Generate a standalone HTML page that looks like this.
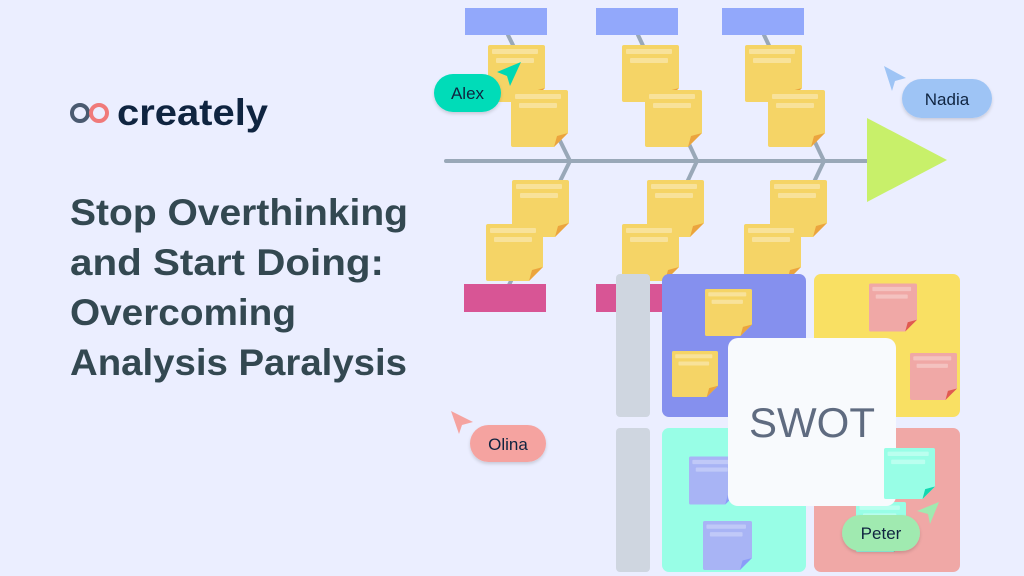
<!DOCTYPE html>
<html><head><meta charset="utf-8"><style>
html,body{margin:0;padding:0;background:#ebeeff;}
svg{display:block;}
text{font-family:"Liberation Sans",sans-serif;}
</style></head><body>
<svg width="1024" height="576" viewBox="0 0 1024 576" xmlns="http://www.w3.org/2000/svg">
<defs>
<filter id="sh" x="-20%" y="-20%" width="140%" height="160%"><feDropShadow dx="0" dy="2" stdDeviation="1.5" flood-color="#000" flood-opacity="0.15"/></filter>
<symbol id="ny" viewBox="0 0 57 57" width="57" height="57" overflow="visible">
<path d="M2 0H55a2 2 0 0 1 2 2V43L43 57H2a2 2 0 0 1-2-2V2a2 2 0 0 1 2-2z" fill="#f5d466"/>
<path d="M57 43L43 57L46 46Z" fill="#eba43e"/>
<rect x="4" y="4" width="46" height="5" rx="1" fill="#f8e29a"/>
<rect x="8" y="13" width="38" height="5" rx="1" fill="#f8e29a"/>
</symbol>
<symbol id="np" viewBox="0 0 57 57" width="57" height="57" overflow="visible">
<path d="M2 0H55a2 2 0 0 1 2 2V43L43 57H2a2 2 0 0 1-2-2V2a2 2 0 0 1 2-2z" fill="#f0a8a6"/>
<path d="M57 43L43 57L46 46Z" fill="#e05a50"/>
<rect x="4" y="4" width="46" height="5" rx="1" fill="#f4c2c0"/>
<rect x="8" y="13" width="38" height="5" rx="1" fill="#f4c2c0"/>
</symbol>
<symbol id="nv" viewBox="0 0 57 57" width="57" height="57" overflow="visible">
<path d="M2 0H55a2 2 0 0 1 2 2V43L43 57H2a2 2 0 0 1-2-2V2a2 2 0 0 1 2-2z" fill="#a8b4f5"/>
<path d="M57 43L43 57L46 46Z" fill="#8a9cf8"/>
<rect x="4" y="4" width="46" height="5" rx="1" fill="#c0c9f8"/>
<rect x="8" y="13" width="38" height="5" rx="1" fill="#c0c9f8"/>
</symbol>
<symbol id="nt" viewBox="0 0 57 57" width="57" height="57" overflow="visible">
<path d="M2 0H55a2 2 0 0 1 2 2V43L43 57H2a2 2 0 0 1-2-2V2a2 2 0 0 1 2-2z" fill="#98fee6"/>
<path d="M57 43L43 57L46 46Z" fill="#10d8b0"/>
<rect x="4" y="4" width="46" height="5" rx="1" fill="#baffef"/>
<rect x="8" y="13" width="38" height="5" rx="1" fill="#baffef"/>
</symbol>
</defs>

<!-- Left: logo -->
<circle cx="80" cy="113" r="8" fill="none" stroke="#4a5a70" stroke-width="4"/>
<circle cx="99" cy="113" r="8" fill="none" stroke="#f07a7a" stroke-width="4"/>
<text x="117" y="125" font-size="37" font-weight="700" fill="#0f2440" textLength="151" lengthAdjust="spacingAndGlyphs">creately</text>

<g font-size="37" font-weight="700" fill="#334851">
<text x="70" y="225" textLength="338" lengthAdjust="spacingAndGlyphs">Stop Overthinking</text>
<text x="70" y="275" textLength="314" lengthAdjust="spacingAndGlyphs">and Start Doing:</text>
<text x="70" y="325" textLength="226" lengthAdjust="spacingAndGlyphs">Overcoming</text>
<text x="70" y="375" textLength="337" lengthAdjust="spacingAndGlyphs">Analysis Paralysis</text>
</g>

<!-- Fishbone -->
<g stroke="#99a8b8" stroke-width="4" stroke-linecap="round" fill="none">
<line x1="446" y1="161" x2="870" y2="161"/>
<polyline points="508,35 570,161 508,287"/>
<polyline points="638,35 697,161 638,287"/>
<polyline points="764,35 824,161 764,287"/>
</g>
<polygon points="867,118 947,160 867,202" fill="#c8f06a"/>

<rect x="465" y="8" width="82" height="27" fill="#92a8fb"/>
<rect x="596" y="8" width="82" height="27" fill="#92a8fb"/>
<rect x="722" y="8" width="82" height="27" fill="#92a8fb"/>

<use href="#ny" x="488" y="45"/>
<use href="#ny" x="511" y="90"/>
<use href="#ny" x="622" y="45"/>
<use href="#ny" x="645" y="90"/>
<use href="#ny" x="745" y="45"/>
<use href="#ny" x="768" y="90"/>

<use href="#ny" x="512" y="180"/>
<use href="#ny" x="647" y="180"/>
<use href="#ny" x="770" y="180"/>
<use href="#ny" x="486" y="224"/>
<use href="#ny" x="622" y="224"/>
<use href="#ny" x="744" y="224"/>

<rect x="464" y="284" width="82" height="28" fill="#d85595"/>
<rect x="596" y="284" width="82" height="28" fill="#d85595"/>

<!-- SWOT -->
<rect x="616" y="274" width="34" height="143" rx="4" fill="#cfd6e0"/>
<rect x="616" y="428" width="34" height="144" rx="4" fill="#cfd6e0"/>
<rect x="662" y="274" width="144" height="143" rx="7" fill="#8590ee"/>
<rect x="814" y="274" width="146" height="143" rx="7" fill="#f9e063"/>
<rect x="662" y="428" width="144" height="144" rx="7" fill="#98fee6"/>
<rect x="814" y="428" width="146" height="144" rx="7" fill="#f0a8a6"/>

<use href="#ny" x="705" y="289" width="47" height="47"/>
<use href="#ny" x="672" y="351" width="46" height="46"/>
<use href="#np" x="869" y="283" width="48" height="49"/>
<use href="#np" x="910" y="353" width="47" height="47"/>
<use href="#nv" x="689" y="456" width="48" height="49"/>
<use href="#nv" x="703" y="521" width="49" height="49"/>
<use href="#nt" x="856" y="502" width="50" height="50"/>

<rect x="728" y="338" width="168" height="168" rx="10" fill="#f8fafd"/>
<text x="812" y="437" font-size="42" fill="#5f6b80" text-anchor="middle">SWOT</text>

<use href="#nt" x="884" y="448" width="51" height="51"/>

<!-- Cursors & labels -->
<polygon points="521,62 510,86 507,76 497,72" fill="#00d8b4"/>
<rect x="434" y="74" width="67" height="38" rx="19" fill="#00dcb8" filter="url(#sh)"/>
<text x="467.5" y="99" font-size="17" fill="#0f2440" text-anchor="middle">Alex</text>

<polygon points="884,66 906,78 895,81 892,91" fill="#9ec4f5"/>
<rect x="902" y="79" width="90" height="39" rx="19.5" fill="#9ec4f5" filter="url(#sh)"/>
<text x="947" y="105" font-size="17" fill="#0f2440" text-anchor="middle">Nadia</text>

<polygon points="451,411 473,422 462,425 459,434" fill="#f5a3a0"/>
<rect x="470" y="425" width="76" height="37" rx="18.5" fill="#f5a3a0" filter="url(#sh)"/>
<text x="508" y="450" font-size="17" fill="#0f2440" text-anchor="middle">Olina</text>

<polygon points="939,502 930,524 928,514 917,511" fill="#a0eab0"/>
<rect x="842" y="515" width="78" height="36" rx="18" fill="#a0eab0" filter="url(#sh)"/>
<text x="881" y="539" font-size="17" fill="#0f2440" text-anchor="middle">Peter</text>
</svg>
</body></html>
